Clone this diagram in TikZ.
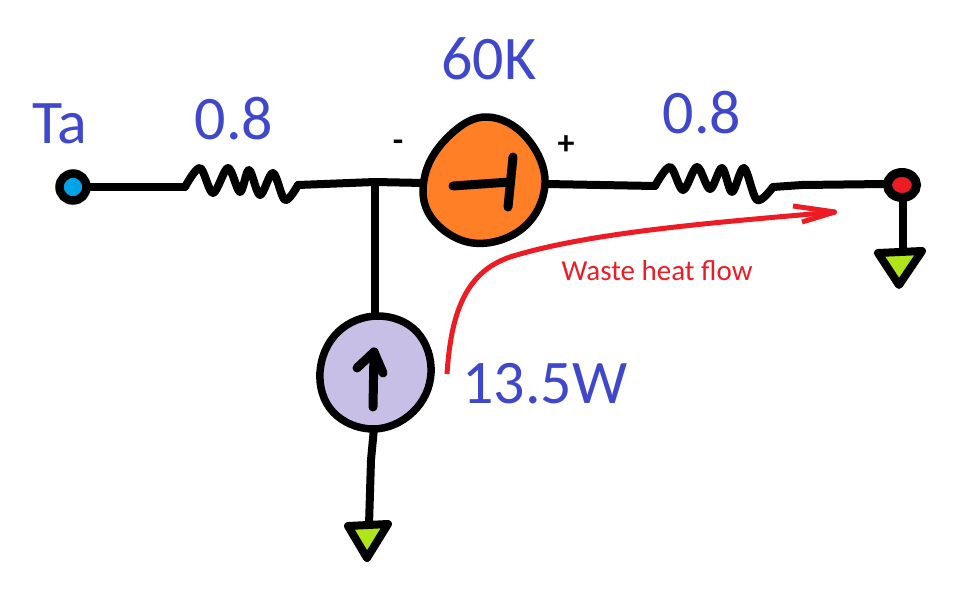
\documentclass[tikz,border=0pt]{standalone}
\usepackage{fontspec}
\setmainfont{Carlito}
\usetikzlibrary{shapes.geometric,calc,positioning}
\definecolor{mblue}{RGB}{63,72,204}
\definecolor{mred}{RGB}{237,28,36}
\definecolor{morange}{RGB}{255,127,39}
\definecolor{mlilac}{RGB}{200,191,231}
\definecolor{mcyan}{RGB}{0,162,232}
\definecolor{mgreen}{RGB}{176,230,25}
\tikzstyle{wire}=[line width=8, line cap=round, line join=round, draw=black]
\tikzstyle{blob}=[wire, line width=7.5]
\tikzstyle{gnd}=[wire, fill=mgreen]
\tikzstyle{glyph}=[wire, line width=9]
\tikzstyle{val}=[text=mblue, font=\fontsize{62}{62}\selectfont, inner sep=0pt]
\tikzstyle{sign}=[text=black, font=\bfseries\fontsize{34}{34}\selectfont, inner sep=0pt]
\tikzstyle{flow}=[line width=5, draw=mred, line join=round]
\begin{document}
\begin{tikzpicture}[x=1pt,y=-1pt]
    \useasboundingbox (0,0) rectangle (967,602);

    \coordinate (junc) at (375,182);
    \coordinate (r1a) at (185,187);
    \coordinate (r1b) at (298,185);
    \coordinate (r2a) at (655,186);
    \coordinate (r2b) at (773,187);
    \coordinate (tecw) at (424,183);
    \coordinate (tece) at (546,184);
    \coordinate (heatn) at (375,318);
    \coordinate (heats) at (374,428);
    \coordinate (g1) at (369,525);
    \coordinate (g2) at (903,252);

    \draw[wire] (r1b) -- (junc) -- (tecw);
    \draw[wire] (junc) -- (heatn);
    \draw[wire] (tece) -- (r2a);
    \draw[wire] (r2b) -- (802,185) -- (885,184);
    \draw[wire] (heats) -- (371,460) -- (g1);
    \draw[wire] (903,195) -- (g2);
    \draw[wire] plot[smooth,tension=.55] coordinates {(r1a) (200,168) (213,193) (228,168) (240,192) (249,170) (260,195) (273,173) (285,200) (r1b)};
    \draw[wire] plot[smooth,tension=.55] coordinates {(r2a) (670,167) (683,190) (697,167) (710,189) (722,168) (732,192) (744,168) (757,200) (r2b)};

    \node[ellipse, draw=black, line width=8.5, fill=mcyan, minimum size=27pt, inner sep=0pt] (ta) at (73,187) {};
    \node[ellipse, draw=black, line width=9, fill=mred, minimum width=29pt, minimum height=25pt, inner sep=0pt] (tb) at (902,185) {};
    \draw[wire] (ta) -- (r1a);

    \draw[blob, fill=morange] plot[smooth cycle,tension=.67] coordinates {(487,117) (526,137) (545,183) (523,228) (473,243) (431,217) (425,175) (450,135)};
    \draw[blob, fill=mlilac] plot[smooth cycle,tension=.67] coordinates {(378,316) (417,332) (431,373) (413,412) (373,429) (333,412) (320,372) (338,332)};

    \draw[gnd] (348,526) -- (388,524) -- (367,558) -- cycle;
    \draw[gnd] (878,253) -- (922,251) -- (899,285) -- cycle;

    \draw[glyph] (453,186) -- (510,182);
    \draw[glyph] (513,157) -- (508,207);
    \draw[glyph] (373,407) -- (374,352);
    \draw[glyph] (357,368) -- (374,352) -- (383,373);

    \coordinate (fs) at (447,374);
    \coordinate (fe) at (835,212);
    \draw[flow] (fs) .. controls (451,312) and (466,272) .. (510,257) .. controls (590,232) and (720,222) .. (fe);
    \draw[flow] (793,206) -- (fe) -- (802,222);

    \node[val] (lta) at (60,124) {Ta};
    \node[val] (lr1) at (234,119) {0.8};
    \node[val] (ltec) at (489,59) {60K};
    \node[val] (lr2) at (702,113) {0.8};
    \node[val] (lheat) at (545,384) {13.5W};
    \node[sign] (lminus) at (398,146) {-};
    \node[sign] (lplus) at (566,145) {+};
    \node[text=mred, font=\fontsize{29}{29}\selectfont, inner sep=0pt] (lflow) at (657,271) {Waste heat flow};
\end{tikzpicture}
\end{document}
